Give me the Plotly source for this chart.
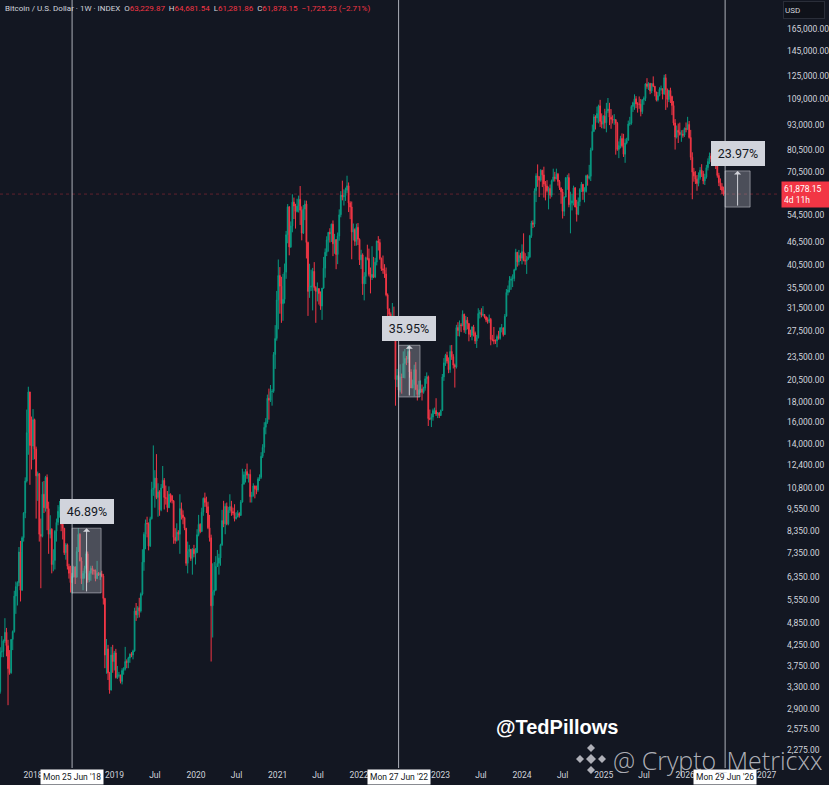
import math
import pandas as pd
import plotly.graph_objects as go

# ---------------- DATA (weekly BTC/USD candles) ----------------
first_open = 3220.0

close_2017 = [4070,4090,4350,4580,4230,3690,3600,4390,4600,5680,6010,6150,7380,5880,8030,9300,11250,15000,19100,13900,13850]
high_2017 = [4190,4480,4390,4980,4700,4380,4120,4400,4630,5860,6190,6200,7600,7880,8100,9350,11500,17200,19700,19100,16500]
low_2017 = [3180,3950,3950,4300,3970,2970,3560,3580,4120,4570,5110,5370,6030,5500,5860,7850,9020,11150,13150,11000,12050]

close_2018 = [16200,13600,11600,11750,8200,8100,10400,9600,11500,9550,8200,8450,6850,7020,8350,8800,9400,9650,8700,8500,7350,7700,6780,6500,6150,6380,6750,6350,7400,8200,7000,6300,6500,6700,7300,6250,6500,6700,6620,6600,6300,6500,6450,6480,6400,5600,4000,4150,3600,3250,4000,3850]
high_2018 = [17250,16300,13800,11900,11800,9000,11200,11250,11600,11700,9950,9180,8500,7500,8400,9000,9750,9990,9700,8880,8500,7780,7760,6880,6800,6520,6800,6780,7600,8500,8250,7150,6600,6800,7400,7400,6600,6800,6800,6650,6650,7000,6550,6540,6600,6480,5620,4400,4250,3620,4200,4250]
low_2018 = [12750,12800,9000,10000,7850,5950,8050,9300,9380,8400,7300,8000,6500,6580,6650,7850,8650,9050,8350,7950,7250,7050,6650,6300,5800,5760,6340,6100,6350,7380,6980,6100,5880,6300,6650,6150,6170,6220,6450,6450,6200,6280,6400,6250,6350,5400,3700,3580,3450,3180,3240,3600]

close_2019 = [4050,3500,3550,3550,3420,3650,3680,3850,3830,3930,4020,4000,4100,5200,5080,5300,5200,5750,6950,8200,8750,8730,7650,8990,10700,10800,11450,10200,10550,9480,10800,11300,10200,10150,9600,10400,10300,10000,8050,7900,8300,8200,9550,9200,9050,8500,6900,7400,7500,7100,7500,7300]
high_2019 = [4100,4150,3750,3620,3560,3700,3720,4200,3900,3960,4040,4070,4130,5300,5450,5350,5620,5800,7500,8300,8950,9100,8800,9100,11200,13900,12000,13200,11100,10650,11050,12300,11450,10950,10600,10900,10450,10350,10050,8500,8750,8400,10400,9900,9450,9100,8500,7850,7700,7500,7550,7700]
low_2019 = [3650,3480,3470,3500,3380,3360,3560,3650,3700,3700,3820,3950,3900,4080,4900,4980,5000,5150,5700,6600,7500,8050,7450,7600,8950,10300,9600,10100,9100,9150,9400,10900,9500,9780,9350,9580,9900,9850,7750,7750,7850,7900,7300,8950,8700,8400,6800,6500,7150,7000,6450,7150]

close_2020 = [7350,8180,8700,8330,9350,10150,9900,9660,8520,8030,5360,5820,5880,6770,6900,7120,7700,8900,8720,9680,8720,9450,9670,9380,9300,9000,9080,9280,9170,9930,11050,11680,11900,11650,11700,10250,10330,10930,10740,10670,11380,11500,13030,13740,15480,15960,18400,18180,19150,19170,23850,26250]
high_2020 = [7550,8450,9200,8750,9600,10200,10500,10250,9950,9200,8180,6900,6950,7200,7470,7300,7750,9480,10000,9850,9900,9650,10400,10000,9600,9800,9350,9450,9350,10050,12100,11900,12080,12480,11750,12050,10550,11100,10950,10950,11500,11700,13350,14000,15950,16350,18800,19480,19900,19420,24200,28400]
low_2020 = [6850,7350,8100,8250,8550,9150,9650,9300,8450,7850,3850,4440,5700,5860,6750,6450,6800,7650,8550,8200,8650,8650,9300,9150,9180,8850,8950,9120,9050,9150,9900,11000,11150,11400,11150,9900,9900,10250,10150,10400,10550,11250,11400,12900,13300,14850,15800,16200,18000,17600,19000,21900]

close_2021 = [33000,38150,35800,32260,33100,38900,48600,57400,45200,51200,59000,57600,55800,57600,60000,56200,49100,56600,58300,46400,34700,35600,35800,39100,35500,34700,35300,34250,31800,35400,39850,43800,47100,49300,48850,51750,46050,47250,43200,48200,54700,61500,60900,61300,63300,65000,58700,57300,49400,50100,46700,50800]
high_2021 = [34800,41950,40100,37850,38500,40950,49700,58300,57500,52600,61800,60600,58400,60200,61300,64900,57500,58000,59600,59500,46650,40900,39500,39900,41300,35800,36600,35150,34700,35400,42600,44800,48150,49400,50500,51900,52900,48850,44950,49250,56500,62950,67000,63650,64300,69000,66300,59300,59200,51950,50500,51900]
low_2021 = [25900,27700,30400,28800,29150,32300,37400,46200,43000,44950,49300,53350,50400,55500,55450,51500,47000,48800,53000,42200,30000,33400,34800,31000,34850,28800,32700,32100,31100,29300,35250,37650,42800,43950,46400,46550,42800,43400,39600,40800,46900,53900,59600,57800,59400,62300,55600,53300,42000,46950,45500,45550]

close_2022 = [47300,41850,43100,36300,37900,42400,42200,38400,37700,38400,37800,41300,46800,46400,42200,39700,39450,38500,34000,31300,30300,29450,29900,26600,20550,21050,19300,20850,20800,22600,23300,23200,24300,21500,19550,19950,21800,19400,18800,19300,19450,19050,19550,20650,20900,16300,16250,16450,17100,17100,16750,16840]
high_2022 = [52100,47550,44450,43500,38900,42650,45800,44750,40000,45400,42600,42350,46900,48200,47400,42450,42950,40800,40000,34300,31300,30650,32400,31700,26900,21900,21550,22500,21300,24300,24650,23650,25200,24450,21850,20550,22450,22800,19950,20400,20450,19950,19700,21000,21450,21050,17200,16800,17300,17400,18400,16950]
low_2022 = [45700,40600,39650,34000,32900,36250,41750,37950,34300,37150,37550,37550,40500,44250,41850,39200,38550,37600,33700,26700,28650,28000,29300,26550,17600,19650,18700,19050,18900,20750,20700,22400,22700,20800,19550,19550,18600,19300,18150,18500,19000,18150,18900,19250,20050,15600,16150,15500,16100,16750,16550,16350]

close_2023 = [16600,17100,20880,22700,23750,22950,21800,24300,23550,22400,22150,28000,27500,28450,28330,30300,27600,29250,28700,26900,26750,28100,27100,25850,26350,30450,30600,30150,30250,29800,29300,29050,29400,26100,26000,25850,25850,26550,26250,27950,27950,26850,29950,34500,35000,37050,37350,37450,39450,43800,41350,43000]
high_2023 = [16950,17200,21250,23350,23950,24250,23450,25200,25250,23900,22600,28450,28900,29200,28750,31000,30400,30000,29800,28700,27650,28200,28450,27350,26800,31400,31050,31400,31800,30350,29950,29750,30250,29650,26800,28100,26100,26850,27450,28050,28600,28000,30350,35200,35950,38000,37950,38400,39700,44700,43450,44400]
low_2023 = [16350,16550,17150,20400,22300,22600,21350,21400,23100,21950,19600,21950,26600,26550,27250,28200,27150,26950,27700,25800,26450,25950,26550,25400,24800,26250,29550,29750,29950,29550,28900,28650,28750,25200,25800,25350,25400,24900,26050,26050,27200,26550,26800,29900,33900,34500,35050,35600,36850,39300,40200,40500]

close_2024 = [42250,43950,41750,41600,42050,42600,48300,52150,51700,63100,68950,68400,67200,71300,69350,65650,64950,63100,64000,61450,66950,68500,67750,69650,66650,64250,62700,55850,60800,68150,68250,58100,58700,59450,64200,57300,54850,59150,63600,65600,62800,62850,69000,67950,68750,80400,89800,97900,97200,99850,104500,95200]
high_2024 = [43650,45900,49000,43550,42850,43850,48550,52800,52950,64000,70000,73800,68900,71750,71300,72800,66850,67200,64700,65500,67450,71950,70600,71950,70150,67250,63400,63800,61050,68450,69400,70000,62750,61800,65050,64500,59800,60650,64100,66500,65600,64450,69400,69500,73600,81500,93500,99500,98800,104000,105250,108300]
low_2024 = [41550,40750,41500,40650,38500,41850,42300,47700,50550,50850,59000,64600,60800,66600,64500,60600,59600,62450,56500,60200,60750,66650,66650,67550,65050,63400,58400,53500,54300,60650,63450,57200,49000,56150,57850,57200,52550,54600,57600,62650,59800,58900,62450,65050,67450,66850,80200,89400,90800,94600,94200,92200]

close_2025 = [93700,98300,94500,101300,102600,97700,96500,96150,96250,94250,80700,82600,86100,82400,78400,83800,85150,93800,94300,104100,106500,109000,105700,105700,105500,101000,108400,109200,119000,117300,119400,114200,119300,117400,113500,108250,111100,115300,115700,112100,123500,115100,108600,114500,110500,104700,94400,86800,90400,89300,88100,88300,87800,91400]
high_2025 = [99950,98900,102700,106400,109500,106400,102500,98800,99500,96500,95000,84600,87450,88750,88500,86000,86450,95750,97900,104950,107100,111900,110700,106800,110500,108900,108500,110500,119500,123200,120250,119800,119400,124500,117600,113450,113400,116700,117900,115700,125700,126200,115900,114900,116400,111000,107500,96600,93000,94100,94600,90400,90600,91900]
low_2025 = [91500,91300,91200,89300,100100,93200,91200,94100,93350,78200,80000,76600,81150,81600,77150,74500,83100,85100,92850,93400,100800,102100,103100,100400,102700,98200,99600,105150,107500,115700,114800,112000,112700,116800,110600,107300,107250,110600,114400,108600,111600,102000,103500,106900,106300,98900,93000,80600,86100,83800,87600,84400,86500,86900]

close_2026 = [90900,93600,86600,77000,70500,68900,67600,65900,68200,71300,69800,66900,68500,72400,75100,77600,76300,78200,75200,73400,69100,66200,64700,63229.87,61878.15]
high_2026 = [94700,97900,95500,90600,79300,72300,70900,69300,70400,72600,73900,71000,69800,73600,76500,79200,78900,79800,79400,76700,74300,70200,67900,66000,64681.54]
low_2026 = [89300,90500,86000,75700,60000,66600,65700,63100,64800,67400,68500,65600,65300,67800,71200,74000,74800,75500,74200,71800,68200,64900,63400,61900,61281.86]

last_week = "2026-06-22"

# measured ranges (start line, end, top price, percent)
box_starts = ["2018-06-25", "2022-06-27", "2026-06-29"]
box_ends = ["2018-11-02", "2022-10-01", "2026-10-19"]
box_tops = [8500, 25200, 71000]
box_pcts = [46.89, 35.95, 23.97]

date_tags = ["Mon 25 Jun '18", "Mon 27 Jun '22", "Mon 29 Jun '26"]

x_tick_dates = ["2018-01-01", "2019-01-01", "2019-07-01", "2020-01-01", "2020-07-01",
                "2021-01-01", "2021-07-01", "2022-01-01", "2023-01-01", "2023-07-01",
                "2024-01-01", "2024-07-01", "2025-01-01", "2025-07-01", "2026-01-01", "2027-01-01"]
x_tick_text = ["2018", "2019", "Jul", "2020", "Jul", "2021", "Jul", "2022", "2023", "Jul",
               "2024", "Jul", "2025", "Jul", "2026", "2027"]

y_ticks = [2275, 2575, 2900, 3300, 3750, 4250, 4850, 5550, 6350, 7350, 8350, 9550,
           10800, 12400, 14000, 16000, 18000, 20500, 23500, 27500, 31500, 35500,
           40500, 46500, 54500, 70500, 80500, 93000, 109000, 125000, 145000, 165000]

last_price = 61878.15
ohlc_text = ("Bitcoin / U.S. Dollar · 1W · INDEX  O<span style='color:#F23645'>63,229.87</span>"
             "  H<span style='color:#F23645'>64,681.54</span>"
             "  L<span style='color:#F23645'>61,281.86</span>"
             "  C<span style='color:#F23645'>61,878.15</span>"
             "  <span style='color:#F23645'>−1,725.23 (−2.71%)</span>")

# ---------------- BUILD ----------------
closes = (close_2017 + close_2018 + close_2019 + close_2020 + close_2021 +
          close_2022 + close_2023 + close_2024 + close_2025 + close_2026)
highs = (high_2017 + high_2018 + high_2019 + high_2020 + high_2021 +
         high_2022 + high_2023 + high_2024 + high_2025 + high_2026)
lows = (low_2017 + low_2018 + low_2019 + low_2020 + low_2021 +
        low_2022 + low_2023 + low_2024 + low_2025 + low_2026)
opens = [first_open] + closes[:-1]
highs = [max(h, o, c) for h, o, c in zip(highs, opens, closes)]
lows = [min(l, o, c) for l, o, c in zip(lows, opens, closes)]
dates = pd.date_range(end=last_week, periods=len(closes), freq="7D")

BG = "#131722"
GREEN = "#089981"
RED = "#F23645"
TXT = "#d1d4dc"

fig = go.Figure()
fig.add_trace(go.Candlestick(
    x=dates, open=opens, high=highs, low=lows, close=closes,
    increasing=dict(line=dict(color=GREEN, width=1), fillcolor=GREEN),
    decreasing=dict(line=dict(color=RED, width=1), fillcolor=RED),
    whiskerwidth=0, showlegend=False, hoverinfo="skip"))

X0, X1 = "2017-08-06", "2027-02-21"
Y0, Y1 = 2045, 196000

# current price dotted line
fig.add_trace(go.Scatter(x=[X0, X1], y=[last_price, last_price], mode="lines",
                         line=dict(color="rgba(242,54,69,0.35)", width=1, dash="dot"),
                         showlegend=False, hoverinfo="skip"))

annotations = []
# measurement boxes
for s, e, top, pct in zip(box_starts, box_ends, box_tops, box_pcts):
    bot = top / (1 + pct / 100.0)
    fig.add_trace(go.Scatter(x=[s, e, e, s, s], y=[bot, bot, top, top, bot],
                             mode="lines", fill="toself",
                             fillcolor="rgba(160,163,172,0.40)",
                             line=dict(color="rgba(200,202,210,0.55)", width=1),
                             showlegend=False, hoverinfo="skip"))
    mid = pd.Timestamp(s) + (pd.Timestamp(e) - pd.Timestamp(s)) / 2
    mid = mid.strftime("%Y-%m-%d")
    annotations.append(dict(x=mid, y=math.log10(top), ax=mid, ay=math.log10(bot),
                            xref="x", yref="y", axref="x", ayref="y", text="",
                            showarrow=True, arrowhead=1, arrowsize=1.2, arrowwidth=1,
                            arrowcolor="rgba(225,226,232,0.9)"))
    annotations.append(dict(x=mid, y=math.log10(top), xref="x", yref="y",
                            text=f"{pct:.2f}%", showarrow=False, yanchor="middle",
                            xanchor="center", yshift=17, width=50, height=21,
                            bgcolor="#d1d4dc", bordercolor="#d1d4dc", borderpad=1,
                            font=dict(family="Roboto", size=12.5, color="#131722")))

shapes = []
for s, tag in zip(box_starts, date_tags):
    shapes.append(dict(type="line", xref="x", yref="paper", x0=s, x1=s, y0=0, y1=1,
                       line=dict(color="rgba(200,203,212,0.85)", width=1)))
    annotations.append(dict(x=s, y=0, xref="x", yref="paper", yanchor="top", yshift=-1,
                            xanchor="center",
                            text=tag, showarrow=False, bgcolor="#ffffff",
                            borderpad=2,
                            font=dict(family="Roboto", size=8.5, color="#131722")))

# title
annotations.append(dict(x=0, y=1, xref="paper", yref="paper", xanchor="left", yanchor="top",
                        xshift=3, yshift=-2, text=ohlc_text, showarrow=False,
                        font=dict(family="Roboto", size=8, color=TXT)))
# USD box
annotations.append(dict(x=1, y=1, xref="paper", yref="paper", xanchor="left", yanchor="top",
                        xshift=5, yshift=-1, text="USD", showarrow=False, align="left",
                        width=38, height=14, bgcolor="#0f121a", bordercolor="#2a2e39",
                        font=dict(family="Roboto", size=8, color=TXT)))
# price label
annotations.append(dict(x=1, y=math.log10(last_price), xref="paper", yref="y",
                        xanchor="left", yanchor="middle", xshift=3,
                        text="61,878.15<br>4d 11h", showarrow=False, align="left",
                        bgcolor=RED, borderpad=2, width=44,
                        font=dict(family="Roboto", size=8.5, color="#ffffff")))
# watermarks
annotations.append(dict(x=557 / 778, y=1 - 727 / 768, xref="paper", yref="paper",
                        xanchor="center", yanchor="middle",
                        text="<b>@TedPillows</b>", showarrow=False,
                        font=dict(family="Liberation Sans", size=20, color="#ffffff")))
annotations.append(dict(x=611 / 778, y=1 - 760 / 768, xref="paper", yref="paper",
                        xanchor="left", yanchor="middle",
                        text="@ Crypto_Metricxx", showarrow=False,
                        font=dict(family="Open Sans", size=25, weight=300,
                                  color="rgba(215,215,222,0.8)")))

# Binance-like logo made of diamonds (pixel positions -> paper)
def px(xp):
    return xp / 778.0


def py(yp):
    return 1 - yp / 768.0


logo_cx, logo_cy = 591, 759
for dx, dy, r in [(0, 0, 5), (-11, 0, 4), (11, 0, 4), (0, -11, 4), (0, 11, 4)]:
    cx, cy = logo_cx + dx, logo_cy + dy
    path = (f"M {px(cx)},{py(cy - r)} L {px(cx + r)},{py(cy)} "
            f"L {px(cx)},{py(cy + r)} L {px(cx - r)},{py(cy)} Z")
    shapes.append(dict(type="path", xref="paper", yref="paper", path=path,
                       fillcolor="rgba(215,215,222,0.8)", line=dict(width=0)))

fig.update_layout(
    width=829, height=785,
    margin=dict(l=0, r=51, t=0, b=17, pad=0),
    paper_bgcolor=BG, plot_bgcolor=BG,
    showlegend=False,
    shapes=shapes, annotations=annotations,
    xaxis=dict(type="date", range=[X0, X1], showgrid=False, zeroline=False,
               showline=False, ticks="", tickvals=x_tick_dates, ticktext=x_tick_text,
               tickfont=dict(family="Roboto", size=8.5, color=TXT),
               rangeslider=dict(visible=False), fixedrange=True),
    yaxis=dict(type="log", range=[math.log10(Y0), math.log10(Y1)], side="right",
               showgrid=False, zeroline=False, showline=False, ticks="",
               tickvals=y_ticks, tickformat=",.2f", ticklabelstandoff=8,
               tickfont=dict(family="Roboto", size=8.5, color=TXT), fixedrange=True),
)

fig.write_html("out.html",
               config={"displayModeBar": False},
               post_script="document.body.style.margin='0';"
                           "document.body.style.padding='0';"
                           "document.body.style.background='#131722';")
